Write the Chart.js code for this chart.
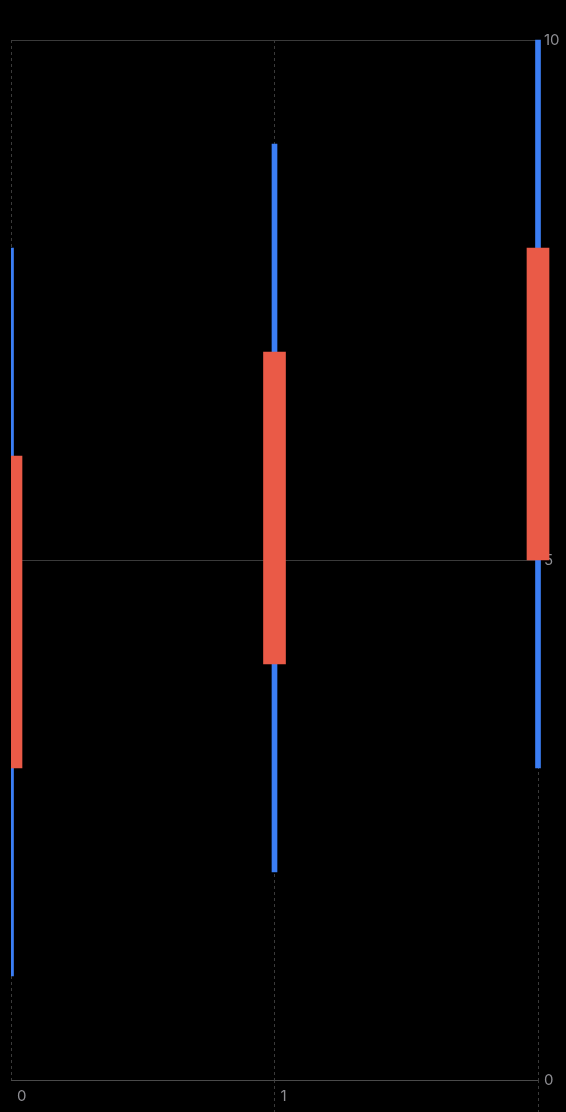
<!DOCTYPE html>
<html>
<head>
<meta charset="utf-8">
<script src="https://cdn.jsdelivr.net/npm/chart.js@4/dist/chart.umd.min.js"></script>
<style>
  html, body { margin: 0; padding: 0; background: #000; }
  canvas { display: block; }
</style>
</head>
<body>
<canvas id="chart" width="566" height="1112"></canvas>
<script>
// candle data
const positions = [0, 1, 2];
const wickLow = [1, 2, 3];
const wickHigh = [8, 9, 10];
const bodyLow = [3, 4, 5];
const bodyHigh = [6, 7, 8];
const yTicks = [0, 5, 10];

const BLUE = '#3B7EF5';
const RED = '#EA5A47';
const GRID = '#3a3a3a';
const LABEL = '#8e8e93';

const wicks = positions.map((x, i) => ({ x: x, y: [wickLow[i], wickHigh[i]] }));
const bodies = positions.map((x, i) => ({ x: x, y: [bodyLow[i], bodyHigh[i]] }));

Chart.defaults.font.family = 'Inter, "Noto Sans", sans-serif';

const ctx = document.getElementById('chart').getContext('2d');
new Chart(ctx, {
    type: 'bar',
    data: {
        datasets: [
            {
                label: 'body',
                data: bodies,
                backgroundColor: RED,
                barThickness: 22,
                grouped: false,
                order: 0,
                clip: { left: 0, top: false, right: false, bottom: false }
            },
            {
                label: 'wick',
                data: wicks,
                backgroundColor: BLUE,
                barThickness: 5,
                grouped: false,
                order: 1,
                clip: { left: 0, top: false, right: false, bottom: false }
            }
        ]
    },
    options: {
        responsive: false,
        animation: false,
        devicePixelRatio: 1,
        layout: { padding: { top: 40, left: 11, right: 0, bottom: 0 } },
        plugins: {
            legend: { display: false },
            tooltip: { enabled: false }
        },
        scales: {
            x: {
                type: 'linear',
                position: 'bottom',
                min: 0,
                max: 2,
                offset: false,
                afterFit: (scale) => { scale.height = 32; },
                grid: {
                    offset: false,
                    color: GRID,
                    drawTicks: true,
                    tickLength: 32,
                    tickBorderDash: [3, 3],
                    tickColor: (c) => (c.tick && c.tick.value === 0) ? 'rgba(0,0,0,0)' : GRID
                },
                border: { display: false, dash: [3, 3] },
                ticks: {
                    stepSize: 1,
                    color: LABEL,
                    font: { size: 15 },
                    padding: -25,
                    align: 'start',
                    labelOffset: 6,
                    maxRotation: 0,
                    callback: (v) => v === 2 ? '' : String(v)
                }
            },
            y: {
                position: 'right',
                min: 0,
                max: 10,
                afterFit: (scale) => { scale.width = 28; },
                afterBuildTicks: (scale) => { scale.ticks = yTicks.map(v => ({ value: v })); },
                grid: {
                    color: (c) => (c.tick && c.tick.value === 0) ? '#4a4a4a' : GRID,
                    drawTicks: false
                },
                border: { display: false },
                ticks: {
                    color: LABEL,
                    font: { size: 15 },
                    padding: 6
                }
            }
        }
    }
});
</script>
</body>
</html>
